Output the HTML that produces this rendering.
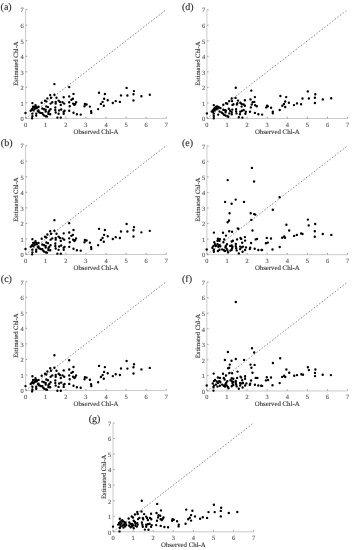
<!DOCTYPE html>
<html><head><meta charset="utf-8"><style>
html,body{margin:0;padding:0;background:#fff;}
svg{display:block;}
.ax,.pl{text-rendering:geometricPrecision;stroke:#333;stroke-width:0.12px;}
.tk{text-rendering:geometricPrecision;stroke:#555;stroke-width:0.1px;}
.tk{font-family:"Liberation Serif",serif;font-size:6.4px;fill:#4a4a4a;}
.ax{font-family:"Liberation Serif",serif;font-size:6.8px;fill:#333;}
.pl{font-family:"Liberation Serif",serif;font-size:10px;fill:#222;}
</style></head><body>
<svg width="354" height="550" viewBox="0 0 354 550">
<rect width="354" height="550" fill="#fff"/>
<line x1="25.60" y1="118.45" x2="166.30" y2="9.60" stroke="#7a7a7a" stroke-width="0.9" stroke-dasharray="1.5 1.8"/>
<path d="M25.60 9.60V118.45H166.30" fill="none" stroke="#c4c4c4" stroke-width="0.9"/>
<path d="M25.60 118.15v-1.4M25.90 118.45h1.4M45.70 118.15v-1.4M25.90 102.90h1.4M65.80 118.15v-1.4M25.90 87.35h1.4M85.90 118.15v-1.4M25.90 71.80h1.4M106.00 118.15v-1.4M25.90 56.25h1.4M126.10 118.15v-1.4M25.90 40.70h1.4M146.20 118.15v-1.4M25.90 25.15h1.4M166.30 118.15v-1.4M25.90 9.60h1.4" stroke="#858585" stroke-width="0.8"/>
<text x="25.60" y="126.75" text-anchor="middle" class="tk">0</text>
<text x="23.80" y="121.25" text-anchor="end" class="tk">0</text>
<text x="45.70" y="126.75" text-anchor="middle" class="tk">1</text>
<text x="23.80" y="105.70" text-anchor="end" class="tk">1</text>
<text x="65.80" y="126.75" text-anchor="middle" class="tk">2</text>
<text x="23.80" y="90.15" text-anchor="end" class="tk">2</text>
<text x="85.90" y="126.75" text-anchor="middle" class="tk">3</text>
<text x="23.80" y="74.60" text-anchor="end" class="tk">3</text>
<text x="106.00" y="126.75" text-anchor="middle" class="tk">4</text>
<text x="23.80" y="59.05" text-anchor="end" class="tk">4</text>
<text x="126.10" y="126.75" text-anchor="middle" class="tk">5</text>
<text x="23.80" y="43.50" text-anchor="end" class="tk">5</text>
<text x="146.20" y="126.75" text-anchor="middle" class="tk">6</text>
<text x="23.80" y="27.95" text-anchor="end" class="tk">6</text>
<text x="166.30" y="126.75" text-anchor="middle" class="tk">7</text>
<text x="23.80" y="12.40" text-anchor="end" class="tk">7</text>
<text x="95.95" y="133.85" text-anchor="middle" class="ax">Observed Chl-A</text>
<text transform="translate(16.10 63.55) rotate(-90)" x="0" y="2.2" text-anchor="middle" class="ax" style="font-size:6.55px">Estimated Chl-A</text>
<text x="0.55" y="9.65" class="pl">(a)</text>
<path d="M25.50 113.00h0M47.40 98.40h0M54.40 84.10h0M50.20 95.10h0M54.40 94.70h0M51.00 97.70h0M56.50 97.70h0M63.70 97.30h0M69.20 87.10h0M69.20 96.40h0M50.60 103.60h0M52.30 102.30h0M55.70 101.90h0M55.70 103.60h0M58.60 100.60h0M59.90 101.90h0M62.50 102.30h0M64.20 103.60h0M60.80 104.90h0M69.20 102.30h0M50.60 109.10h0M49.30 110.80h0M55.30 107.40h0M55.30 110.00h0M55.70 112.50h0M59.10 110.40h0M61.20 109.50h0M50.20 114.20h0M58.60 113.80h0M63.70 111.70h0M64.60 110.80h0M63.70 113.80h0M69.20 110.80h0M57.40 117.60h0M60.80 117.60h0M73.50 93.90h0M71.40 99.80h0M72.90 98.80h0M73.10 103.60h0M74.40 104.90h0M76.10 102.30h0M75.20 104.00h0M69.70 106.20h0M73.50 112.70h0M76.90 114.20h0M80.70 114.60h0M84.90 104.00h0M86.60 104.50h0M84.50 106.20h0M89.90 106.60h0M91.10 111.20h0M91.30 112.90h0M98.10 109.10h0M99.00 92.80h0M104.90 94.00h0M104.10 98.80h0M107.70 100.20h0M102.60 101.90h0M100.90 103.90h0M103.80 105.70h0M112.80 103.00h0M115.70 101.10h0M119.90 101.90h0M121.00 95.40h0M126.60 87.90h0M134.00 91.10h0M133.50 94.20h0M127.40 95.50h0M141.40 96.30h0M149.80 94.80h0M133.50 100.40h0M32.40 103.10h0M41.70 102.70h0M45.00 100.70h0M46.30 101.40h0M30.70 110.80h0M32.40 108.80h0M33.10 106.80h0M35.50 105.10h0M36.20 106.80h0M38.50 106.80h0M34.80 108.80h0M33.50 110.20h0M36.80 108.10h0M34.30 107.00h0M31.50 109.80h0M32.40 113.60h0M32.40 116.30h0M32.10 118.30h0M36.20 113.60h0M36.20 115.60h0M37.90 111.20h0M39.20 112.20h0M40.60 112.90h0M42.30 113.20h0M43.30 114.60h0M44.30 115.60h0M46.00 116.30h0M47.00 116.60h0M38.50 110.50h0M42.30 108.50h0M44.00 109.20h0M45.70 109.80h0M45.70 111.50h0M46.30 106.40h0M48.00 107.10h0M48.40 112.20h0M48.40 113.90h0" stroke="#000" stroke-width="2.4" stroke-linecap="round"/>
<line x1="25.60" y1="254.50" x2="166.30" y2="145.65" stroke="#7a7a7a" stroke-width="0.9" stroke-dasharray="1.5 1.8"/>
<path d="M25.60 145.65V254.50H166.30" fill="none" stroke="#c4c4c4" stroke-width="0.9"/>
<path d="M25.60 254.20v-1.4M25.90 254.50h1.4M45.70 254.20v-1.4M25.90 238.95h1.4M65.80 254.20v-1.4M25.90 223.40h1.4M85.90 254.20v-1.4M25.90 207.85h1.4M106.00 254.20v-1.4M25.90 192.30h1.4M126.10 254.20v-1.4M25.90 176.75h1.4M146.20 254.20v-1.4M25.90 161.20h1.4M166.30 254.20v-1.4M25.90 145.65h1.4" stroke="#858585" stroke-width="0.8"/>
<text x="25.60" y="262.80" text-anchor="middle" class="tk">0</text>
<text x="23.80" y="257.30" text-anchor="end" class="tk">0</text>
<text x="45.70" y="262.80" text-anchor="middle" class="tk">1</text>
<text x="23.80" y="241.75" text-anchor="end" class="tk">1</text>
<text x="65.80" y="262.80" text-anchor="middle" class="tk">2</text>
<text x="23.80" y="226.20" text-anchor="end" class="tk">2</text>
<text x="85.90" y="262.80" text-anchor="middle" class="tk">3</text>
<text x="23.80" y="210.65" text-anchor="end" class="tk">3</text>
<text x="106.00" y="262.80" text-anchor="middle" class="tk">4</text>
<text x="23.80" y="195.10" text-anchor="end" class="tk">4</text>
<text x="126.10" y="262.80" text-anchor="middle" class="tk">5</text>
<text x="23.80" y="179.55" text-anchor="end" class="tk">5</text>
<text x="146.20" y="262.80" text-anchor="middle" class="tk">6</text>
<text x="23.80" y="164.00" text-anchor="end" class="tk">6</text>
<text x="166.30" y="262.80" text-anchor="middle" class="tk">7</text>
<text x="23.80" y="148.45" text-anchor="end" class="tk">7</text>
<text x="95.95" y="269.90" text-anchor="middle" class="ax">Observed Chl-A</text>
<text transform="translate(16.10 199.60) rotate(-90)" x="0" y="2.2" text-anchor="middle" class="ax" style="font-size:6.55px">Estimated Chl-A</text>
<text x="0.80" y="145.65" class="pl">(b)</text>
<path d="M25.50 249.05h0M47.40 234.45h0M54.40 220.15h0M50.20 231.15h0M54.40 230.75h0M51.00 233.75h0M56.50 233.75h0M63.70 233.35h0M69.20 223.15h0M69.20 232.45h0M50.60 239.65h0M52.30 238.35h0M55.70 237.95h0M55.70 239.65h0M58.60 236.65h0M59.90 237.95h0M62.50 238.35h0M64.20 239.65h0M60.80 240.95h0M69.20 238.35h0M50.60 245.15h0M49.30 246.85h0M55.30 243.45h0M55.30 246.05h0M55.70 248.55h0M59.10 246.45h0M61.20 245.55h0M50.20 250.25h0M58.60 249.85h0M63.70 247.75h0M64.60 246.85h0M63.70 249.85h0M69.20 246.85h0M57.40 253.65h0M60.80 253.65h0M73.50 229.95h0M71.40 235.85h0M72.90 234.85h0M73.10 239.65h0M74.40 240.95h0M76.10 238.35h0M75.20 240.05h0M69.70 242.25h0M73.50 248.75h0M76.90 250.25h0M80.70 250.65h0M84.90 240.05h0M86.60 240.55h0M84.50 242.25h0M89.90 242.65h0M91.10 247.25h0M91.30 248.95h0M98.10 245.15h0M99.00 228.85h0M104.90 230.05h0M104.10 234.85h0M107.70 236.25h0M102.60 237.95h0M100.90 239.95h0M103.80 241.75h0M112.80 239.05h0M115.70 237.15h0M119.90 237.95h0M121.00 231.45h0M126.60 223.95h0M134.00 227.15h0M133.50 230.25h0M127.40 231.55h0M141.40 232.35h0M149.80 230.85h0M133.50 236.45h0M32.40 239.15h0M41.70 238.75h0M45.00 236.75h0M46.30 237.45h0M30.70 246.85h0M32.40 244.85h0M33.10 242.85h0M35.50 241.15h0M36.20 242.85h0M38.50 242.85h0M34.80 244.85h0M33.50 246.25h0M36.80 244.15h0M34.30 243.05h0M31.50 245.85h0M32.40 249.65h0M32.40 252.35h0M32.10 254.35h0M36.20 249.65h0M36.20 251.65h0M37.90 247.25h0M39.20 248.25h0M40.60 248.95h0M42.30 249.25h0M43.30 250.65h0M44.30 251.65h0M46.00 252.35h0M47.00 252.65h0M38.50 246.55h0M42.30 244.55h0M44.00 245.25h0M45.70 245.85h0M45.70 247.55h0M46.30 242.45h0M48.00 243.15h0M48.40 248.25h0M48.40 249.95h0" stroke="#000" stroke-width="2.4" stroke-linecap="round"/>
<line x1="25.60" y1="390.55" x2="166.30" y2="281.70" stroke="#7a7a7a" stroke-width="0.9" stroke-dasharray="1.5 1.8"/>
<path d="M25.60 281.70V390.55H166.30" fill="none" stroke="#c4c4c4" stroke-width="0.9"/>
<path d="M25.60 390.25v-1.4M25.90 390.55h1.4M45.70 390.25v-1.4M25.90 375.00h1.4M65.80 390.25v-1.4M25.90 359.45h1.4M85.90 390.25v-1.4M25.90 343.90h1.4M106.00 390.25v-1.4M25.90 328.35h1.4M126.10 390.25v-1.4M25.90 312.80h1.4M146.20 390.25v-1.4M25.90 297.25h1.4M166.30 390.25v-1.4M25.90 281.70h1.4" stroke="#858585" stroke-width="0.8"/>
<text x="25.60" y="398.85" text-anchor="middle" class="tk">0</text>
<text x="23.80" y="393.35" text-anchor="end" class="tk">0</text>
<text x="45.70" y="398.85" text-anchor="middle" class="tk">1</text>
<text x="23.80" y="377.80" text-anchor="end" class="tk">1</text>
<text x="65.80" y="398.85" text-anchor="middle" class="tk">2</text>
<text x="23.80" y="362.25" text-anchor="end" class="tk">2</text>
<text x="85.90" y="398.85" text-anchor="middle" class="tk">3</text>
<text x="23.80" y="346.70" text-anchor="end" class="tk">3</text>
<text x="106.00" y="398.85" text-anchor="middle" class="tk">4</text>
<text x="23.80" y="331.15" text-anchor="end" class="tk">4</text>
<text x="126.10" y="398.85" text-anchor="middle" class="tk">5</text>
<text x="23.80" y="315.60" text-anchor="end" class="tk">5</text>
<text x="146.20" y="398.85" text-anchor="middle" class="tk">6</text>
<text x="23.80" y="300.05" text-anchor="end" class="tk">6</text>
<text x="166.30" y="398.85" text-anchor="middle" class="tk">7</text>
<text x="23.80" y="284.50" text-anchor="end" class="tk">7</text>
<text x="95.95" y="405.95" text-anchor="middle" class="ax">Observed Chl-A</text>
<text transform="translate(16.10 335.65) rotate(-90)" x="0" y="2.2" text-anchor="middle" class="ax" style="font-size:6.55px">Estimated Chl-A</text>
<text x="0.80" y="281.65" class="pl">(c)</text>
<path d="M25.50 386.10h0M47.40 371.50h0M54.40 355.20h0M50.20 368.20h0M54.40 367.80h0M51.00 370.80h0M56.50 370.80h0M63.70 370.40h0M69.20 360.20h0M69.20 369.50h0M50.60 376.70h0M52.30 375.40h0M55.70 375.00h0M55.70 376.70h0M58.60 373.70h0M59.90 375.00h0M62.50 375.40h0M64.20 376.70h0M60.80 378.00h0M69.20 375.40h0M50.60 382.20h0M49.30 383.90h0M55.30 380.50h0M55.30 383.10h0M55.70 385.60h0M59.10 383.50h0M61.20 382.60h0M50.20 387.30h0M58.60 386.90h0M63.70 384.80h0M64.60 383.90h0M63.70 386.90h0M69.20 383.90h0M57.40 390.70h0M60.80 390.70h0M73.50 367.00h0M71.40 372.90h0M72.90 371.90h0M73.10 376.70h0M74.40 378.00h0M76.10 375.40h0M75.20 377.10h0M69.70 379.30h0M73.50 385.80h0M76.90 387.30h0M80.70 387.70h0M84.90 377.10h0M86.60 377.60h0M84.50 379.30h0M89.90 379.70h0M91.10 384.30h0M91.30 386.00h0M98.10 382.20h0M99.00 365.90h0M104.90 367.10h0M104.10 371.90h0M107.70 373.30h0M102.60 375.00h0M100.90 377.00h0M103.80 378.80h0M112.80 376.10h0M115.70 374.20h0M119.90 375.00h0M121.00 368.50h0M126.60 361.00h0M134.00 364.20h0M133.50 367.30h0M127.40 368.60h0M141.40 369.40h0M149.80 367.90h0M133.50 373.50h0M32.40 376.20h0M41.70 375.80h0M45.00 373.80h0M46.30 374.50h0M30.70 383.90h0M32.40 381.90h0M33.10 379.90h0M35.50 378.20h0M36.20 379.90h0M38.50 379.90h0M34.80 381.90h0M33.50 383.30h0M36.80 381.20h0M34.30 380.10h0M31.50 382.90h0M32.40 386.70h0M32.40 389.40h0M32.10 391.40h0M36.20 386.70h0M36.20 388.70h0M37.90 384.30h0M39.20 385.30h0M40.60 386.00h0M42.30 386.30h0M43.30 387.70h0M44.30 388.70h0M46.00 389.40h0M47.00 389.70h0M38.50 383.60h0M42.30 381.60h0M44.00 382.30h0M45.70 382.90h0M45.70 384.60h0M46.30 379.50h0M48.00 380.20h0M48.40 385.30h0M48.40 387.00h0" stroke="#000" stroke-width="2.4" stroke-linecap="round"/>
<line x1="206.90" y1="118.50" x2="347.60" y2="9.65" stroke="#7a7a7a" stroke-width="0.9" stroke-dasharray="1.5 1.8"/>
<path d="M206.90 9.65V118.50H347.60" fill="none" stroke="#c4c4c4" stroke-width="0.9"/>
<path d="M206.90 118.20v-1.4M207.20 118.50h1.4M227.00 118.20v-1.4M207.20 102.95h1.4M247.10 118.20v-1.4M207.20 87.40h1.4M267.20 118.20v-1.4M207.20 71.85h1.4M287.30 118.20v-1.4M207.20 56.30h1.4M307.40 118.20v-1.4M207.20 40.75h1.4M327.50 118.20v-1.4M207.20 25.20h1.4M347.60 118.20v-1.4M207.20 9.65h1.4" stroke="#858585" stroke-width="0.8"/>
<text x="206.90" y="126.80" text-anchor="middle" class="tk">0</text>
<text x="205.10" y="121.30" text-anchor="end" class="tk">0</text>
<text x="227.00" y="126.80" text-anchor="middle" class="tk">1</text>
<text x="205.10" y="105.75" text-anchor="end" class="tk">1</text>
<text x="247.10" y="126.80" text-anchor="middle" class="tk">2</text>
<text x="205.10" y="90.20" text-anchor="end" class="tk">2</text>
<text x="267.20" y="126.80" text-anchor="middle" class="tk">3</text>
<text x="205.10" y="74.65" text-anchor="end" class="tk">3</text>
<text x="287.30" y="126.80" text-anchor="middle" class="tk">4</text>
<text x="205.10" y="59.10" text-anchor="end" class="tk">4</text>
<text x="307.40" y="126.80" text-anchor="middle" class="tk">5</text>
<text x="205.10" y="43.55" text-anchor="end" class="tk">5</text>
<text x="327.50" y="126.80" text-anchor="middle" class="tk">6</text>
<text x="205.10" y="28.00" text-anchor="end" class="tk">6</text>
<text x="347.60" y="126.80" text-anchor="middle" class="tk">7</text>
<text x="205.10" y="12.45" text-anchor="end" class="tk">7</text>
<text x="277.25" y="133.90" text-anchor="middle" class="ax">Observed Chl-A</text>
<text transform="translate(197.40 63.60) rotate(-90)" x="0" y="2.2" text-anchor="middle" class="ax" style="font-size:6.55px">Estimated Chl-A</text>
<text x="182.00" y="9.95" class="pl">(d)</text>
<path d="M206.90 113.40h0M228.30 116.70h0M229.20 101.10h0M231.70 98.50h0M232.10 101.10h0M232.50 104.90h0M235.80 87.80h0M251.30 90.60h0M254.90 97.10h0M235.60 97.90h0M238.00 100.60h0M244.90 100.20h0M250.50 99.40h0M233.50 104.20h0M236.90 104.50h0M237.30 103.20h0M240.30 102.80h0M241.60 104.00h0M243.70 104.50h0M244.90 105.70h0M241.60 106.60h0M252.60 102.30h0M254.30 101.90h0M251.70 104.50h0M255.10 105.30h0M256.80 106.20h0M250.90 107.40h0M236.10 109.10h0M236.10 111.20h0M236.50 113.40h0M240.30 111.70h0M242.00 110.80h0M243.70 110.00h0M239.90 114.20h0M245.80 111.70h0M245.40 113.80h0M250.00 111.80h0M254.90 112.90h0M238.80 117.20h0M242.40 117.60h0M258.40 114.20h0M262.10 114.60h0M267.00 105.70h0M267.90 106.20h0M266.20 107.40h0M271.10 107.80h0M272.80 111.70h0M272.80 113.20h0M280.40 96.00h0M279.70 110.00h0M282.30 105.70h0M284.00 104.00h0M285.20 101.50h0M285.20 107.00h0M286.20 97.10h0M288.90 102.80h0M294.00 105.10h0M297.00 103.40h0M301.10 104.30h0M302.50 98.50h0M307.80 91.40h0M308.90 98.50h0M315.30 94.30h0M314.90 97.70h0M322.80 99.40h0M331.20 98.20h0M314.90 103.00h0M213.80 105.10h0M211.70 111.50h0M212.80 110.30h0M213.90 109.00h0M214.80 107.90h0M215.80 107.00h0M217.00 106.40h0M218.30 107.00h0M219.50 107.60h0M220.50 108.10h0M214.50 110.50h0M216.20 109.20h0M217.50 108.60h0M213.00 111.80h0M213.80 113.60h0M213.80 115.90h0M213.80 118.30h0M218.20 114.60h0M219.50 111.50h0M221.60 112.50h0M222.90 113.60h0M224.30 114.90h0M225.60 115.60h0M227.70 116.30h0M223.30 104.70h0M226.00 103.10h0M227.30 103.70h0M223.30 109.80h0M225.00 110.20h0M226.00 110.80h0M225.60 112.20h0M228.80 108.70h0M230.10 110.80h0M231.80 112.10h0M229.30 113.40h0M231.80 114.20h0M232.30 109.60h0" stroke="#000" stroke-width="2.4" stroke-linecap="round"/>
<line x1="206.90" y1="254.65" x2="347.60" y2="145.80" stroke="#7a7a7a" stroke-width="0.9" stroke-dasharray="1.5 1.8"/>
<path d="M206.90 145.80V254.65H347.60" fill="none" stroke="#c4c4c4" stroke-width="0.9"/>
<path d="M206.90 254.35v-1.4M207.20 254.65h1.4M227.00 254.35v-1.4M207.20 239.10h1.4M247.10 254.35v-1.4M207.20 223.55h1.4M267.20 254.35v-1.4M207.20 208.00h1.4M287.30 254.35v-1.4M207.20 192.45h1.4M307.40 254.35v-1.4M207.20 176.90h1.4M327.50 254.35v-1.4M207.20 161.35h1.4M347.60 254.35v-1.4M207.20 145.80h1.4" stroke="#858585" stroke-width="0.8"/>
<text x="206.90" y="262.95" text-anchor="middle" class="tk">0</text>
<text x="205.10" y="257.45" text-anchor="end" class="tk">0</text>
<text x="227.00" y="262.95" text-anchor="middle" class="tk">1</text>
<text x="205.10" y="241.90" text-anchor="end" class="tk">1</text>
<text x="247.10" y="262.95" text-anchor="middle" class="tk">2</text>
<text x="205.10" y="226.35" text-anchor="end" class="tk">2</text>
<text x="267.20" y="262.95" text-anchor="middle" class="tk">3</text>
<text x="205.10" y="210.80" text-anchor="end" class="tk">3</text>
<text x="287.30" y="262.95" text-anchor="middle" class="tk">4</text>
<text x="205.10" y="195.25" text-anchor="end" class="tk">4</text>
<text x="307.40" y="262.95" text-anchor="middle" class="tk">5</text>
<text x="205.10" y="179.70" text-anchor="end" class="tk">5</text>
<text x="327.50" y="262.95" text-anchor="middle" class="tk">6</text>
<text x="205.10" y="164.15" text-anchor="end" class="tk">6</text>
<text x="347.60" y="262.95" text-anchor="middle" class="tk">7</text>
<text x="205.10" y="148.60" text-anchor="end" class="tk">7</text>
<text x="277.25" y="270.05" text-anchor="middle" class="ax">Observed Chl-A</text>
<text transform="translate(197.40 199.75) rotate(-90)" x="0" y="2.2" text-anchor="middle" class="ax" style="font-size:6.55px">Estimated Chl-A</text>
<text x="182.00" y="145.65" class="pl">(e)</text>
<path d="M251.90 167.90h0M227.70 180.10h0M254.10 181.50h0M279.60 197.20h0M225.10 201.90h0M231.60 203.80h0M235.70 199.60h0M244.00 201.90h0M229.60 213.20h0M229.00 220.50h0M227.60 222.20h0M237.80 228.40h0M250.70 213.20h0M254.10 214.10h0M255.30 214.60h0M272.80 209.80h0M251.30 219.90h0M213.90 232.60h0M223.00 232.80h0M229.20 231.20h0M232.10 231.70h0M206.70 249.50h0M238.40 228.80h0M252.50 230.50h0M244.90 237.10h0M240.50 237.90h0M241.20 238.90h0M237.10 239.40h0M245.10 240.60h0M255.70 239.40h0M257.00 238.90h0M242.20 242.80h0M251.10 243.00h0M235.80 244.00h0M235.80 246.20h0M236.20 248.30h0M236.70 250.40h0M240.10 246.60h0M241.70 247.40h0M243.00 246.60h0M240.10 249.10h0M245.10 250.00h0M246.00 247.40h0M242.60 251.70h0M238.80 253.40h0M250.20 247.80h0M249.80 249.10h0M254.70 248.70h0M258.30 250.00h0M261.50 250.00h0M286.40 224.70h0M289.20 230.50h0M266.80 237.90h0M271.00 238.50h0M265.90 243.20h0M267.80 242.60h0M262.10 250.00h0M272.50 249.50h0M279.70 247.00h0M282.20 237.70h0M284.20 236.40h0M285.00 237.70h0M294.10 235.90h0M296.80 234.90h0M301.10 233.40h0M302.50 234.00h0M307.90 219.60h0M308.70 225.40h0M315.20 224.00h0M314.80 231.30h0M314.80 236.70h0M322.80 234.00h0M331.30 234.90h0M226.00 235.60h0M232.90 240.70h0M231.70 241.50h0M217.90 238.70h0M219.90 239.10h0M217.50 240.70h0M219.50 240.70h0M224.20 239.50h0M223.40 242.30h0M214.30 242.30h0M215.10 244.30h0M213.50 245.90h0M212.40 247.80h0M215.90 245.90h0M217.50 244.30h0M219.50 245.10h0M220.30 246.30h0M218.30 246.70h0M213.90 249.80h0M213.90 251.80h0M217.90 251.00h0M219.50 249.80h0M222.20 249.40h0M223.80 250.20h0M225.00 251.00h0M227.00 244.30h0M225.80 245.90h0M225.40 247.40h0M226.60 248.60h0M227.40 250.20h0M228.20 252.20h0M230.20 245.90h0M231.70 245.50h0M232.50 246.70h0M232.10 248.20h0M231.70 249.80h0M230.50 250.60h0" stroke="#000" stroke-width="2.4" stroke-linecap="round"/>
<line x1="206.85" y1="390.95" x2="347.55" y2="282.10" stroke="#7a7a7a" stroke-width="0.9" stroke-dasharray="1.5 1.8"/>
<path d="M206.85 282.10V390.95H347.55" fill="none" stroke="#c4c4c4" stroke-width="0.9"/>
<path d="M206.85 390.65v-1.4M207.15 390.95h1.4M226.95 390.65v-1.4M207.15 375.40h1.4M247.05 390.65v-1.4M207.15 359.85h1.4M267.15 390.65v-1.4M207.15 344.30h1.4M287.25 390.65v-1.4M207.15 328.75h1.4M307.35 390.65v-1.4M207.15 313.20h1.4M327.45 390.65v-1.4M207.15 297.65h1.4M347.55 390.65v-1.4M207.15 282.10h1.4" stroke="#858585" stroke-width="0.8"/>
<text x="206.85" y="399.25" text-anchor="middle" class="tk">0</text>
<text x="205.05" y="393.75" text-anchor="end" class="tk">0</text>
<text x="226.95" y="399.25" text-anchor="middle" class="tk">1</text>
<text x="205.05" y="378.20" text-anchor="end" class="tk">1</text>
<text x="247.05" y="399.25" text-anchor="middle" class="tk">2</text>
<text x="205.05" y="362.65" text-anchor="end" class="tk">2</text>
<text x="267.15" y="399.25" text-anchor="middle" class="tk">3</text>
<text x="205.05" y="347.10" text-anchor="end" class="tk">3</text>
<text x="287.25" y="399.25" text-anchor="middle" class="tk">4</text>
<text x="205.05" y="331.55" text-anchor="end" class="tk">4</text>
<text x="307.35" y="399.25" text-anchor="middle" class="tk">5</text>
<text x="205.05" y="316.00" text-anchor="end" class="tk">5</text>
<text x="327.45" y="399.25" text-anchor="middle" class="tk">6</text>
<text x="205.05" y="300.45" text-anchor="end" class="tk">6</text>
<text x="347.55" y="399.25" text-anchor="middle" class="tk">7</text>
<text x="205.05" y="284.90" text-anchor="end" class="tk">7</text>
<text x="277.20" y="406.35" text-anchor="middle" class="ax">Observed Chl-A</text>
<text transform="translate(197.35 336.05) rotate(-90)" x="0" y="2.2" text-anchor="middle" class="ax" style="font-size:6.55px">Estimated Chl-A</text>
<text x="182.00" y="281.65" class="pl">(f)</text>
<path d="M235.80 302.00h0M227.90 352.00h0M224.90 359.90h0M231.50 360.80h0M235.80 359.00h0M244.10 359.90h0M229.80 364.60h0M228.10 368.30h0M229.20 367.80h0M252.00 348.30h0M254.20 352.50h0M280.20 358.20h0M272.90 363.00h0M250.50 364.60h0M254.60 364.90h0M251.40 367.80h0M286.40 369.50h0M206.70 385.50h0M237.50 371.60h0M252.50 372.80h0M240.50 376.60h0M241.20 377.50h0M245.10 376.20h0M245.10 378.80h0M237.10 377.90h0M242.20 380.20h0M251.10 380.50h0M255.70 377.90h0M257.40 377.90h0M235.80 380.90h0M235.80 383.00h0M236.20 384.70h0M236.70 386.40h0M240.10 383.00h0M241.70 383.40h0M243.00 383.00h0M240.10 385.50h0M245.10 385.50h0M246.40 383.40h0M242.60 387.50h0M238.80 388.70h0M250.20 383.80h0M249.80 384.90h0M254.90 384.70h0M258.30 385.50h0M261.20 385.80h0M289.20 372.80h0M266.80 377.20h0M271.00 377.50h0M265.90 380.40h0M268.10 380.00h0M262.10 385.90h0M272.50 385.30h0M279.70 383.10h0M282.20 376.90h0M284.20 375.80h0M285.30 377.00h0M294.20 375.70h0M297.00 375.10h0M301.30 374.30h0M303.00 374.70h0M307.90 367.20h0M308.90 370.10h0M315.40 369.50h0M315.00 372.90h0M315.00 376.10h0M322.70 374.70h0M330.90 375.10h0M213.70 373.60h0M223.00 373.80h0M226.00 375.50h0M229.40 373.00h0M232.10 373.20h0M233.30 378.70h0M231.70 378.30h0M217.90 377.50h0M219.90 377.90h0M215.10 379.90h0M213.90 381.10h0M212.70 383.40h0M216.70 381.50h0M219.10 381.10h0M220.30 382.30h0M217.90 383.10h0M215.90 384.60h0M213.90 385.80h0M213.50 387.40h0M223.80 377.90h0M224.60 379.50h0M217.50 386.60h0M219.90 385.80h0M227.40 381.10h0M226.20 382.70h0M225.40 384.20h0M226.60 385.40h0M227.80 387.00h0M228.60 388.20h0M222.20 384.60h0M223.80 385.80h0M225.00 386.60h0M230.50 380.30h0M232.10 381.50h0M233.30 381.90h0M232.50 383.40h0M233.30 385.00h0M231.70 386.20h0M213.50 390.60h0" stroke="#000" stroke-width="2.4" stroke-linecap="round"/>
<line x1="113.00" y1="531.80" x2="253.70" y2="422.95" stroke="#7a7a7a" stroke-width="0.9" stroke-dasharray="1.5 1.8"/>
<path d="M113.00 422.95V531.80H253.70" fill="none" stroke="#c4c4c4" stroke-width="0.9"/>
<path d="M113.00 531.50v-1.4M113.30 531.80h1.4M133.10 531.50v-1.4M113.30 516.25h1.4M153.20 531.50v-1.4M113.30 500.70h1.4M173.30 531.50v-1.4M113.30 485.15h1.4M193.40 531.50v-1.4M113.30 469.60h1.4M213.50 531.50v-1.4M113.30 454.05h1.4M233.60 531.50v-1.4M113.30 438.50h1.4M253.70 531.50v-1.4M113.30 422.95h1.4" stroke="#858585" stroke-width="0.8"/>
<text x="113.00" y="540.10" text-anchor="middle" class="tk">0</text>
<text x="111.20" y="534.60" text-anchor="end" class="tk">0</text>
<text x="133.10" y="540.10" text-anchor="middle" class="tk">1</text>
<text x="111.20" y="519.05" text-anchor="end" class="tk">1</text>
<text x="153.20" y="540.10" text-anchor="middle" class="tk">2</text>
<text x="111.20" y="503.50" text-anchor="end" class="tk">2</text>
<text x="173.30" y="540.10" text-anchor="middle" class="tk">3</text>
<text x="111.20" y="487.95" text-anchor="end" class="tk">3</text>
<text x="193.40" y="540.10" text-anchor="middle" class="tk">4</text>
<text x="111.20" y="472.40" text-anchor="end" class="tk">4</text>
<text x="213.50" y="540.10" text-anchor="middle" class="tk">5</text>
<text x="111.20" y="456.85" text-anchor="end" class="tk">5</text>
<text x="233.60" y="540.10" text-anchor="middle" class="tk">6</text>
<text x="111.20" y="441.30" text-anchor="end" class="tk">6</text>
<text x="253.70" y="540.10" text-anchor="middle" class="tk">7</text>
<text x="111.20" y="425.75" text-anchor="end" class="tk">7</text>
<text x="183.35" y="547.20" text-anchor="middle" class="ax">Observed Chl-A</text>
<text transform="translate(103.50 476.90) rotate(-90)" x="0" y="2.2" text-anchor="middle" class="ax" style="font-size:6.55px">Estimated Chl-A</text>
<text x="88.70" y="422.45" class="pl">(g)</text>
<path d="M113.00 526.60h0M141.80 500.80h0M157.20 503.90h0M161.00 510.40h0M141.50 511.50h0M144.10 514.10h0M151.10 513.80h0M156.50 513.00h0M142.80 517.90h0M143.20 519.20h0M146.20 516.60h0M147.00 517.90h0M150.00 517.90h0M151.30 519.20h0M147.90 520.00h0M158.50 515.30h0M160.20 515.80h0M158.00 517.50h0M160.60 519.20h0M162.70 518.70h0M163.50 517.50h0M161.80 520.00h0M157.00 520.80h0M141.90 522.50h0M142.40 524.70h0M142.80 526.80h0M146.20 524.70h0M147.90 524.20h0M149.60 523.80h0M146.20 526.80h0M151.70 525.10h0M151.10 526.80h0M156.20 525.10h0M160.70 525.90h0M164.40 527.00h0M144.90 529.60h0M148.50 529.70h0M168.10 527.20h0M172.50 519.20h0M173.70 519.70h0M172.10 520.80h0M177.10 521.30h0M178.80 524.80h0M178.60 526.40h0M186.20 509.60h0M192.40 510.70h0M191.10 515.10h0M189.80 517.70h0M188.20 519.20h0M191.10 520.60h0M185.60 523.80h0M195.00 516.40h0M200.10 518.70h0M202.80 517.20h0M207.10 517.90h0M208.50 512.10h0M213.90 504.70h0M214.70 512.10h0M221.20 507.70h0M220.80 510.90h0M220.80 516.40h0M228.80 513.00h0M237.30 512.00h0M135.00 514.40h0M137.30 512.00h0M137.70 514.00h0M139.30 517.90h0M138.10 519.10h0M135.00 521.90h0M135.40 523.40h0M135.40 525.80h0M137.30 523.10h0M137.70 524.60h0M136.90 526.60h0M119.50 531.40h0M119.80 518.70h0M118.10 524.60h0M119.10 522.90h0M120.50 521.50h0M122.20 520.20h0M123.20 521.20h0M124.50 522.20h0M125.60 522.90h0M121.50 523.20h0M120.10 524.60h0M120.50 526.60h0M119.80 528.00h0M122.50 525.60h0M123.90 524.60h0M123.50 527.60h0M125.20 526.30h0M126.20 524.90h0M128.60 518.50h0M129.30 522.50h0M130.30 523.60h0M131.30 524.60h0M132.30 523.90h0M129.00 525.60h0M130.60 527.30h0M132.30 526.30h0M133.70 528.30h0M133.00 525.30h0M131.70 516.40h0M133.00 517.50h0M133.70 520.80h0" stroke="#000" stroke-width="2.4" stroke-linecap="round"/>
</svg>
</body></html>
